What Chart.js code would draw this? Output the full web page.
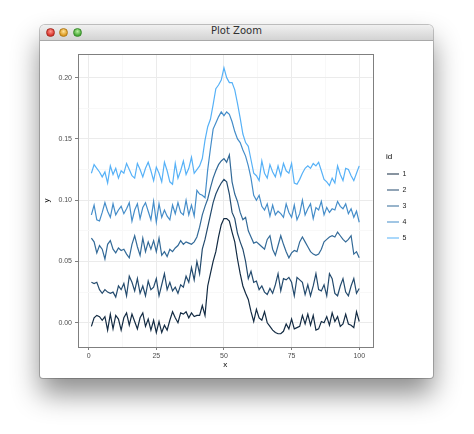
<!DOCTYPE html>
<html>
<head>
<meta charset="utf-8">
<title>Plot Zoom</title>
<script src="https://cdn.jsdelivr.net/npm/chart.js@4.4.0/dist/chart.umd.min.js"></script>
<style>
html, body { margin: 0; padding: 0; background: #fff; width: 474px; height: 434px; overflow: hidden; }
#win {
    position: absolute; left: 40px; top: 25px; width: 393px; height: 353px;
    background: #fff; border-radius: 5px 5px 3px 3px; overflow: hidden;
    box-shadow: 0 16px 28px rgba(0,0,0,0.45), 0 0 0 1px rgba(0,0,0,0.22);
}
#bar {
    position: relative; height: 15px; line-height: 16px;
    background: linear-gradient(#f0f0f0, #d3d3d3);
    border-bottom: 1px solid #a9a9a9;
    font: 10px "DejaVu Sans", "Liberation Sans", sans-serif; color: #303030; text-align: center;
}
.dot { position: absolute; top: 3px; width: 9px; height: 9px; border-radius: 50%; box-sizing: border-box; }
#red { left: 6px; background: radial-gradient(circle at 50% 35%, #ff9a90, #d8332b 70%); border: 1px solid #a52a22; }
#yel { left: 19px; background: radial-gradient(circle at 50% 35%, #ffe29a, #dc9a1e 70%); border: 1px solid #b07a18; }
#grn { left: 33px; background: radial-gradient(circle at 50% 35%, #b8f0a0, #45a834 70%); border: 1px solid #3a8a2c; }
#box { position: absolute; left: 0; top: 16px; width: 393px; height: 337px; }
</style>
</head>
<body>
<div id="win">
    <div id="bar"><span class="dot" id="red"></span><span class="dot" id="yel"></span><span class="dot" id="grn"></span>Plot Zoom</div>
    <div id="box"><canvas id="plot" width="393" height="337"></canvas></div>
</div>
<script>
// values, x = 1..100 for every id
const ids = ['1', '2', '3', '4', '5'];
const legendTitle = 'id';

const id1 = [
    -0.003, 0.004, 0.006, 0.005, 0.002, 0.005, -0.006, 0.007, -0.005, 0.006,
    0.003, -0.006, 0.004, 0.008, -0.002, 0.007, 0.001, -0.005, 0.004, 0.008,
    -0.003, 0.003, -0.006, 0.002, -0.008, 0.001, -0.008, -0.002, -0.006, 0.002,
    0.009, 0.004, 0.000, 0.008, 0.007, 0.009, 0.004, 0.008, 0.005, 0.006,
    0.006, 0.014, 0.006, 0.030, 0.040, 0.050, 0.058, 0.070, 0.080, 0.085,
    0.085, 0.083, 0.074, 0.066, 0.052, 0.040, 0.030, 0.024, 0.019, 0.009,
    0.001, 0.011, 0.004, 0.002, 0.009, 0.000, -0.003, -0.006, -0.008, -0.009,
    -0.009, -0.007, -0.001, -0.005, 0.003, -0.005, -0.004, -0.003, 0.006, -0.001,
    0.007, -0.002, 0.006, -0.006, -0.005, 0.001, 0.000, 0.005, -0.002, 0.008,
    0.001, 0.005, -0.003, -0.001, 0.007, -0.001, -0.002, -0.004, 0.009, 0.001
];
const id2 = [
    0.033, 0.032, 0.033, 0.027, 0.024, 0.027, 0.025, 0.024, 0.025, 0.021,
    0.030, 0.027, 0.032, 0.022, 0.038, 0.033, 0.026, 0.036, 0.024, 0.030,
    0.022, 0.034, 0.027, 0.029, 0.036, 0.022, 0.031, 0.040, 0.027, 0.033,
    0.026, 0.029, 0.024, 0.031, 0.029, 0.038, 0.033, 0.045, 0.035, 0.050,
    0.040, 0.060, 0.068, 0.078, 0.088, 0.098, 0.105, 0.110, 0.114, 0.117,
    0.115, 0.105, 0.090, 0.085, 0.073, 0.066, 0.060, 0.050, 0.036, 0.042,
    0.033, 0.034, 0.027, 0.030, 0.025, 0.023, 0.028, 0.024, 0.031, 0.040,
    0.026, 0.036, 0.035, 0.037, 0.033, 0.022, 0.037, 0.035, 0.033, 0.023,
    0.031, 0.022, 0.030, 0.040, 0.027, 0.026, 0.031, 0.022, 0.040, 0.036,
    0.024, 0.022, 0.030, 0.036, 0.025, 0.022, 0.030, 0.036, 0.024, 0.028
];
const id3 = [
    0.069, 0.066, 0.057, 0.063, 0.060, 0.052, 0.064, 0.067, 0.060, 0.057,
    0.061, 0.059, 0.060, 0.056, 0.053, 0.064, 0.071, 0.062, 0.055, 0.069,
    0.058, 0.066, 0.060, 0.067, 0.058, 0.069, 0.055, 0.058, 0.054, 0.060,
    0.058, 0.061, 0.063, 0.067, 0.064, 0.066, 0.065, 0.064, 0.066, 0.070,
    0.078, 0.088, 0.095, 0.101, 0.110, 0.118, 0.124, 0.129, 0.132, 0.134,
    0.131, 0.137, 0.115, 0.105, 0.099, 0.090, 0.084, 0.086, 0.075, 0.070,
    0.065, 0.066, 0.064, 0.062, 0.060, 0.068, 0.071, 0.060, 0.055, 0.063,
    0.071, 0.064, 0.058, 0.053, 0.057, 0.059, 0.058, 0.066, 0.070, 0.066,
    0.062, 0.058, 0.056, 0.055, 0.056, 0.060, 0.066, 0.068, 0.070, 0.071,
    0.070, 0.074, 0.071, 0.068, 0.066, 0.068, 0.071, 0.056, 0.058, 0.053
];
const id4 = [
    0.088, 0.096, 0.084, 0.083, 0.090, 0.098, 0.091, 0.086, 0.097, 0.088,
    0.092, 0.095, 0.089, 0.093, 0.098, 0.083, 0.092, 0.097, 0.085, 0.094,
    0.098, 0.091, 0.084, 0.099, 0.082, 0.097, 0.086, 0.092, 0.087, 0.084,
    0.096, 0.089, 0.098, 0.090, 0.088, 0.100, 0.088, 0.096, 0.087, 0.108,
    0.105, 0.104, 0.102, 0.125, 0.142, 0.158, 0.163, 0.168, 0.172, 0.169,
    0.172, 0.170, 0.164, 0.156, 0.150, 0.147, 0.141, 0.136, 0.128, 0.118,
    0.104, 0.100, 0.104, 0.095, 0.092, 0.097, 0.087, 0.096, 0.088, 0.091,
    0.089, 0.086, 0.097, 0.090, 0.086, 0.096, 0.084, 0.089, 0.100, 0.088,
    0.093, 0.097, 0.085, 0.094, 0.092, 0.099, 0.088, 0.094, 0.090, 0.093,
    0.092, 0.099, 0.095, 0.093, 0.097, 0.089, 0.093, 0.086, 0.091, 0.082
];
const id5 = [
    0.122, 0.129, 0.126, 0.123, 0.119, 0.123, 0.114, 0.128, 0.121, 0.126,
    0.118, 0.124, 0.122, 0.130, 0.125, 0.120, 0.118, 0.130, 0.125, 0.119,
    0.126, 0.131, 0.124, 0.116, 0.127, 0.122, 0.115, 0.131, 0.124, 0.115,
    0.113, 0.130, 0.118, 0.124, 0.132, 0.121, 0.126, 0.135, 0.122, 0.125,
    0.128, 0.134, 0.149, 0.160, 0.166, 0.178, 0.191, 0.194, 0.198, 0.208,
    0.200, 0.196, 0.196, 0.190, 0.179, 0.167, 0.154, 0.147, 0.144, 0.133,
    0.122, 0.120, 0.116, 0.132, 0.122, 0.118, 0.129, 0.123, 0.119, 0.128,
    0.120, 0.130, 0.124, 0.122, 0.130, 0.114, 0.113, 0.117, 0.122, 0.126,
    0.128, 0.126, 0.130, 0.128, 0.131, 0.124, 0.117, 0.115, 0.112, 0.118,
    0.114, 0.128, 0.121, 0.116, 0.126, 0.125, 0.120, 0.116, 0.122, 0.128
];

const xTicks = [0, 12.5, 25, 37.5, 50, 62.5, 75, 87.5, 100];
const yTicks = [0, 0.025, 0.05, 0.075, 0.1, 0.125, 0.15, 0.175, 0.2];

const seriesValues = [id1, id2, id3, id4, id5];
const lineColors = ['#132B43', '#244B6E', '#336A98', '#458DC9', '#56B1F7'];
const FONT = '"Liberation Sans", "DejaVu Sans", sans-serif';

// ggplot panel: grey border all round the plotting area
const panelBorder = {
    id: 'panelBorder',
    afterDraw(chart) {
        const a = chart.chartArea;
        const c = chart.ctx;
        c.save();
        c.strokeStyle = '#7f7f7f';
        c.lineWidth = 1;
        c.strokeRect(Math.round(a.left) + 0.5, Math.round(a.top) + 0.5,
            Math.round(a.right - a.left), Math.round(a.bottom - a.top));
        c.restore();
    }
};

// move the legend block to where ggplot puts it and write its title above the keys
const legendPlace = {
    id: 'legendPlace',
    afterLayout(chart) {
        const L = chart.legend;
        const pad = L.options.labels.padding;
        const dx = 347 - (L.left + pad);
        const firstKey = (L.top + pad + L.bottom - L.columnSizes[0].height) / 2 + 3.5;
        const dy = 133 - firstKey;
        L.left += dx; L.right += dx;
        L.top += dy; L.bottom += dy;
    },
    afterDraw(chart) {
        const L = chart.legend;
        const c = chart.ctx;
        c.save();
        c.fillStyle = '#000';
        c.font = '8px ' + FONT;
        c.textAlign = 'left';
        c.textBaseline = 'middle';
        c.fillText(legendTitle, L.left + L.options.labels.padding - 1, 116);
        c.restore();
    }
};

function isMajor(i) { return i % 2 === 0; }

const datasets = ids.map(function (id, k) {
    return {
        label: id,
        data: seriesValues[k].map(function (v, i) { return { x: i + 1, y: v }; }),
        borderColor: lineColors[k],
        backgroundColor: lineColors[k],
        borderWidth: 1.2,
        pointRadius: 0,
        tension: 0
    };
});

let ctx = document.getElementById('plot').getContext('2d');
let plot = new Chart(ctx, {
    type: 'line',
    data: { datasets: datasets },
    plugins: [panelBorder, legendPlace],
    options: {
        responsive: false,
        animation: false,
        layout: { padding: { top: 13, left: 2, right: 22, bottom: 8 } },
        plugins: {
            tooltip: { enabled: false },
            legend: {
                position: 'right',
                labels: {
                    usePointStyle: true, pointStyle: 'line', pointStyleWidth: 12,
                    boxHeight: 7, padding: 9, color: '#222',
                    font: { family: FONT, size: 7 }
                }
            }
        },
        scales: {
            x: {
                type: 'linear', min: -3.95, max: 104.95,
                afterBuildTicks: function (s) { s.ticks = xTicks.map(function (v) { return { value: v }; }); },
                afterFit: function (s) { s.height = 23; },
                border: { display: false },
                grid: {
                    tickLength: 3,
                    color: function (c) { return isMajor(c.index) ? '#ebebeb' : '#f8f8f8'; },
                    tickColor: function (c) { return isMajor(c.index) ? '#7f7f7f' : 'rgba(0,0,0,0)'; }
                },
                ticks: {
                    autoSkip: false, maxRotation: 0, padding: 2, color: '#4d4d4d',
                    font: { family: FONT, size: 7 },
                    callback: function (v, i) { return isMajor(i) ? String(v) : ''; }
                },
                title: { display: true, text: 'x', color: '#000', font: { family: FONT, size: 8 }, padding: { top: 0, bottom: 0 } }
            },
            y: {
                type: 'linear', min: -0.0198, max: 0.2193,
                afterBuildTicks: function (s) { s.ticks = yTicks.map(function (v) { return { value: v }; }); },
                afterFit: function (s) { s.width = 36; },
                border: { display: false },
                grid: {
                    tickLength: 3,
                    color: function (c) { return isMajor(c.index) ? '#ebebeb' : '#f8f8f8'; },
                    tickColor: function (c) { return isMajor(c.index) ? '#7f7f7f' : 'rgba(0,0,0,0)'; }
                },
                ticks: {
                    autoSkip: false, padding: 3, color: '#4d4d4d',
                    font: { family: FONT, size: 7 },
                    callback: function (v, i) { return isMajor(i) ? v.toFixed(2) : ''; }
                },
                title: { display: true, text: 'y', color: '#000', font: { family: FONT, size: 8 }, padding: { top: 0, bottom: 2 } }
            }
        }
    }
});
</script>
</body>
</html>
